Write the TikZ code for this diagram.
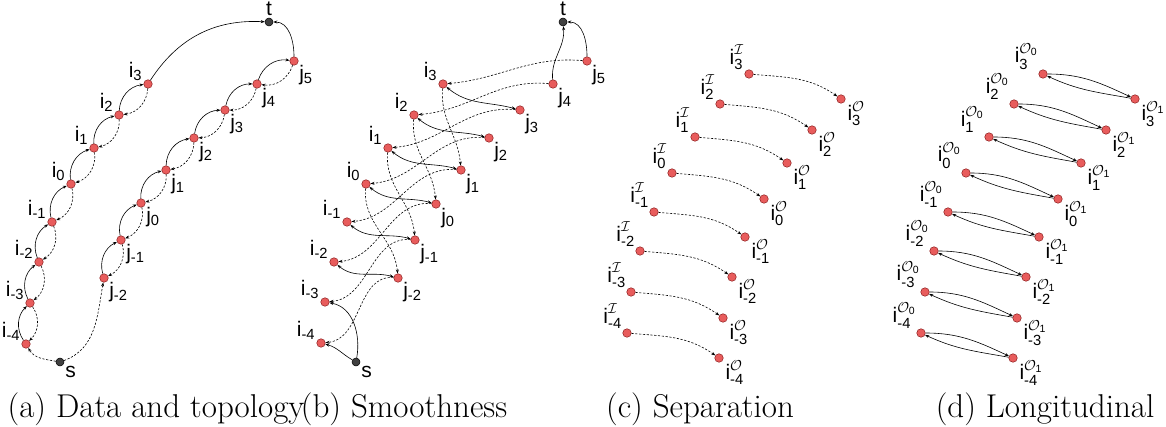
\documentclass[tikz,border=0pt]{standalone}
\usepackage{amsmath}
\usepackage{fontspec}
\newfontfamily\labfont{Liberation Sans}
\usetikzlibrary{arrows.meta}
\definecolor{nodered}{RGB}{232,92,92}
\definecolor{nodeedge}{RGB}{140,30,30}
\tikzset{
  v/.style={circle,inner sep=0pt,minimum size=8.5pt,fill=nodered,draw=nodeedge,line width=0.5pt},
  st/.style={circle,inner sep=0pt,minimum size=8pt,fill=black!75,draw=black,line width=0.5pt},
  lab/.style={font=\labfont\fontsize{21}{21}\selectfont,inner sep=0.5pt},
  e/.style={line width=0.6pt,-{Stealth[length=4pt,width=3pt]}},
  ed/.style={e,dashed,dash pattern=on 2.2pt off 1.6pt},
  ee/.style={line width=0.6pt,{Stealth[length=4pt,width=3pt]}-{Stealth[length=4pt,width=3pt]}},
  captxt/.style={font=\fontsize{33}{34}\selectfont,inner sep=0pt,anchor=base},
  every label/.append style={label distance=1.5pt}
}
\begin{document}
\begin{tikzpicture}[x=1pt,y=1pt]
\useasboundingbox (0,0) rectangle (1166,426);
% ---------- (a)
\node[st,label={[lab]above:t}] (at) at (269,404) {};
\node[st,label={[lab]-35:s}] (as) at (60,64) {};
\foreach \k/\x/\y in {-4/26/82,-3/30/123,-2/39/164,-1/52/204,0/71/242,1/94/278,2/119/311,3/148/342}
  \node[v,label={[lab]150:i\textsubscript{\k}}] (ai\k) at (\x,\y) {};
\foreach \k/\x/\y in {-2/104/148,-1/121/186,0/141/223,1/166/256,2/194/288,3/225/316,4/257/342,5/294/365}
  \node[v,label={[lab]-40:j\textsubscript{\k}}] (aj\k) at (\x,\y) {};
\foreach \k/\n in {-4/-3,-3/-2,-2/-1,-1/0,0/1,1/2,2/3}{
  \draw[e] (ai\k) to[bend left=40] (ai\n);
  \draw[ed] (ai\n) to[bend left=40] (ai\k);}
\foreach \k/\n in {-2/-1,-1/0,0/1,1/2,2/3,3/4,4/5}{
  \draw[e] (aj\k) to[bend left=40] (aj\n);
  \draw[ed] (aj\n) to[bend left=40] (aj\k);}
\draw[e] (ai3) to[bend left=30] (at);
\draw[e] (aj5) to[out=90,in=0] (at);
\draw[ed] (as) to[out=170,in=-60] (ai-4);
\draw[ed] (as) to[out=20,in=-100] (aj-2);
% ---------- (b)
\node[st,label={[lab]above:t}] (bt) at (563,404) {};
\node[st,label={[lab]-35:s}] (bs) at (356,64) {};
\foreach \k/\x/\y in {-4/321/83,-3/325/124,-2/334/164,-1/347/204,0/366/242,1/388/278,2/414/311,3/443/342}
  \node[v,label={[lab]150:i\textsubscript{\k}}] (bi\k) at (\x,\y) {};
\foreach \k/\x/\y in {-2/398/148,-1/415/186,0/436/222,1/461/256,2/489/288,3/520/316,4/553/342,5/587/365}
  \node[v,label={[lab]-40:j\textsubscript{\k}}] (bj\k) at (\x,\y) {};
\foreach \k in {-2,...,3}
  \draw[ee] (bi\k) to[out=-40,in=165] (bj\k);
\foreach \k/\n in {-4/-2,-3/-1,-2/0,-1/1,0/2,1/3,2/4,3/5}
  \draw[ed] (bj\n) to[out=175,in=5] (bi\k);
\foreach \k/\n in {0/-2,1/-1,2/0,3/1}
  \draw[ed] (bi\k) to[out=-95,in=95] (bj\n);
\draw[e] (bs) to[out=80,in=-10] (bi-3);
\draw[e] (bs) to[out=150,in=-15] (bi-4);
\draw[e] (bj4) to[out=95,in=-85] (bt);
\draw[e] (bj5) to[out=90,in=0] (bt);
% ---------- (c) and (d)
\foreach \k/\x/\y/\u/\w in {3/749/352/841/327,2/720/322/812/296,1/695/289/787/263,0/672/253/764/227,-1/654/214/745/189,-2/640/175/732/149,-3/631/134/723/108,-4/627/93/719/68}{
  \node[v,label={[lab]140:$\text{i}^{\mathcal I}_{\text{\k}}$}] (ci\k) at (\x,\y) {};
  \node[v,label={[lab]-15:$\text{i}^{\mathcal O}_{\text{\k}}$}] (co\k) at (\u,\w) {};
  \draw[ed] (ci\k) to[out=-5,in=145] (co\k);
  \node[v,label={[lab]140:$\text{i}^{\mathcal O_{\text{0}}}_{\text{\k}}$}] (di\k) at (\x+294,\y) {};
  \node[v,label={[lab]-15:$\text{i}^{\mathcal O_{\text{1}}}_{\text{\k}}$}] (do\k) at (\u+294,\w) {};
  \draw[e] (di\k) to[out=0,in=155] (do\k);
  \draw[e] (do\k) to[out=170,in=-25] (di\k);
}
% ---------- captions
\node[captxt] (capa) at (156,9) {(a) Data and topology};
\node[captxt] (capb) at (404,9) {(b) Smoothness};
\node[captxt] (capc) at (700,9) {(c) Separation};
\node[captxt] (capd) at (1045,9) {(d) Longitudinal};
\end{tikzpicture}
\end{document}
